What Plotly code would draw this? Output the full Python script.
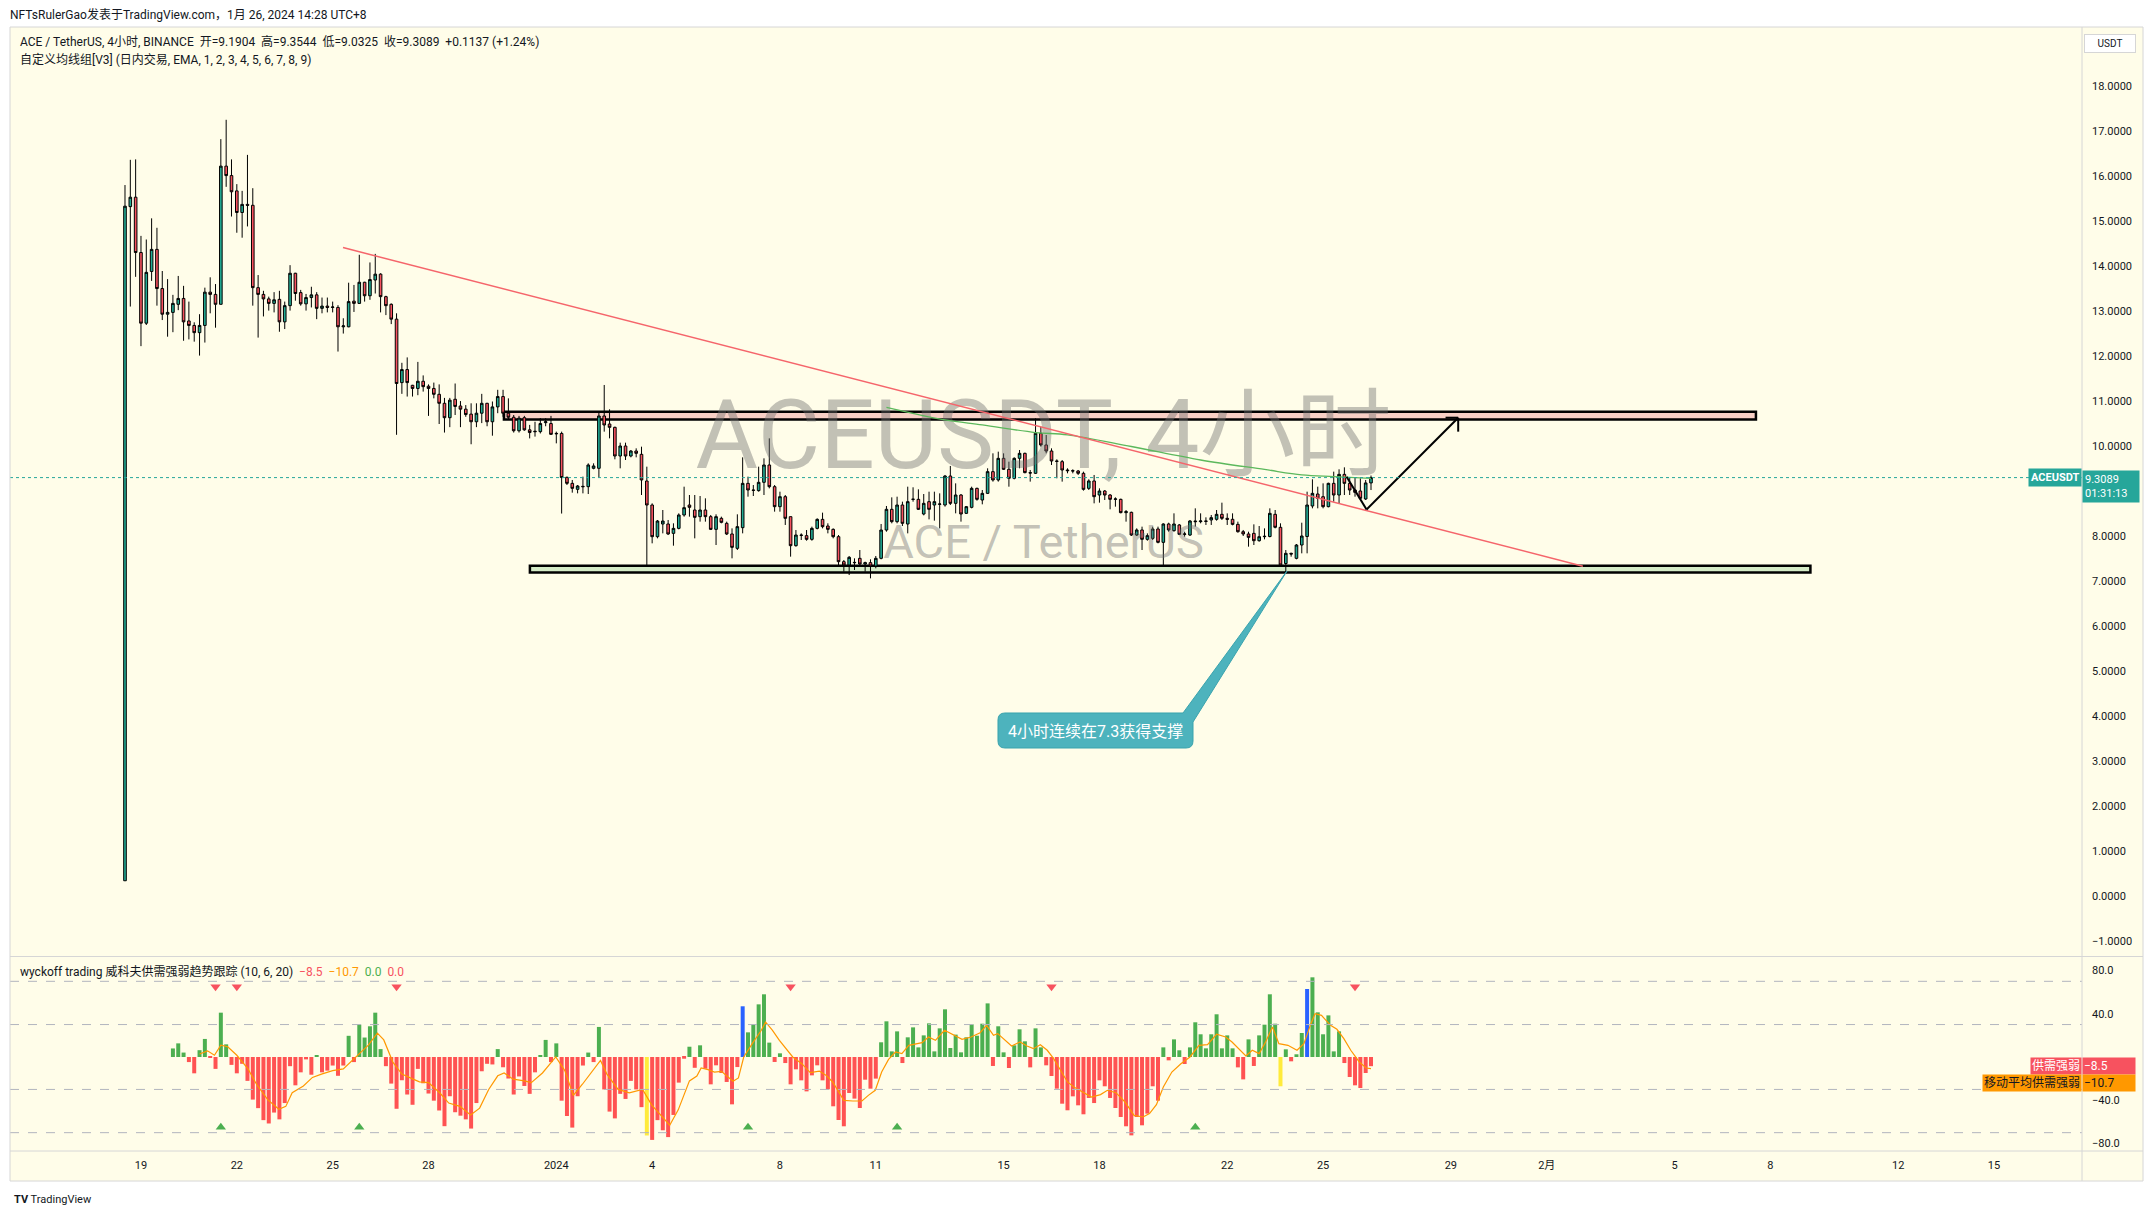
import plotly.graph_objects as go
import pandas as pd

# ---------------- data ----------------
START = "2023-12-18 12:00"   # first 4h bar (UTC+8)

opens = [
    0.35, 15.33, 15.54, 14.31, 12.74, 13.89, 14.38, 13.51, 12.94, 12.98,
    13.16, 13.29, 12.79, 12.69, 12.53, 12.69, 13.43, 13.38, 13.16, 16.23,
    16.02, 15.68, 15.20, 15.38, 15.36, 13.53, 13.38, 13.28, 13.18, 13.27,
    12.77, 13.13, 13.85, 13.42, 13.17, 13.31, 13.37, 13.07, 13.12, 13.09,
    13.09, 12.66, 12.66, 13.23, 13.18, 13.65, 13.35, 13.70, 13.83, 13.33,
    13.16, 12.83, 11.42, 11.71, 11.36, 11.29, 11.45, 11.34, 11.29, 11.16,
    10.96, 10.64, 11.05, 10.90, 10.83, 10.72, 10.55, 10.74, 10.96, 10.55,
    10.88, 11.11, 10.74, 10.65, 10.35, 10.64, 10.37, 10.34, 10.33, 10.53,
    10.51, 10.28, 10.29, 9.315, 9.181, 9.048, 9.115, 9.107, 9.515, 9.515,
    10.678, 10.500, 10.426, 9.789, 10.011, 9.789, 9.900, 9.826, 9.233, 8.700,
    7.996, 8.278, 8.278, 8.070, 8.181, 8.478, 8.700, 8.589, 8.441, 8.589,
    8.441, 8.159, 8.404, 8.293, 8.056, 7.737, 8.196, 9.181, 9.033, 9.019,
    9.204, 9.589, 9.107, 8.663, 8.885, 8.441, 7.796, 8.033, 8.019, 7.937,
    8.181, 8.381, 8.233, 8.159, 7.996, 7.441, 7.367, 7.426, 7.515, 7.389,
    7.419, 7.344, 7.515, 8.144, 8.604, 8.330, 8.700, 8.278, 8.830, 8.826,
    8.500, 8.774, 8.700, 8.715, 8.700, 9.344, 8.737, 8.922, 8.515, 8.648,
    9.070, 8.811, 8.959, 9.441, 9.256, 9.737, 9.493, 9.293, 9.737, 9.848,
    9.419, 9.404, 10.293, 10.034, 9.900, 9.678, 9.663, 9.478, 9.463, 9.456,
    9.404, 9.070, 9.234, 8.922, 9.011, 8.922, 8.826, 8.826, 8.530, 8.537,
    8.033, 8.145, 7.937, 7.959, 8.167, 7.870, 8.278, 8.130, 8.256, 8.048,
    8.033, 8.345, 8.330, 8.345, 8.367, 8.382, 8.493, 8.404, 8.382, 8.270,
    8.107, 8.056, 8.070, 7.907, 7.996, 8.000, 8.493, 8.204, 7.400, 7.626,
    7.515, 7.811, 8.000, 8.678, 8.944, 8.885, 8.663, 9.181, 8.922, 9.381,
    9.181, 9.033, 9.011, 8.834, 9.1904,
]
highs = [
    15.81, 16.37, 16.38, 14.68, 14.60, 15.07, 14.86, 13.90, 13.72, 13.37,
    13.79, 13.57, 13.22, 12.76, 12.94, 13.53, 13.76, 13.61, 16.83, 17.26,
    16.38, 15.83, 15.68, 16.48, 15.74, 13.81, 13.46, 13.33, 13.43, 13.46,
    13.22, 14.03, 13.86, 13.48, 13.39, 13.55, 13.43, 13.31, 13.31, 13.22,
    13.14, 12.85, 13.64, 13.59, 14.26, 13.66, 14.09, 14.28, 13.85, 13.35,
    13.18, 12.96, 11.86, 11.98, 11.37, 11.88, 11.58, 11.38, 11.42, 11.38,
    11.08, 11.08, 11.40, 11.01, 10.92, 10.96, 10.96, 11.17, 10.97, 11.00,
    11.26, 11.26, 11.07, 10.70, 10.68, 10.68, 10.48, 10.55, 10.63, 10.63,
    10.68, 10.33, 10.33, 9.330, 9.256, 9.144, 9.330, 9.626, 9.626, 10.752,
    11.367, 10.826, 10.441, 10.085, 10.085, 9.922, 9.959, 9.996, 9.552, 8.737,
    8.367, 8.589, 8.367, 8.293, 8.515, 9.107, 8.922, 8.922, 8.900, 8.848,
    8.478, 8.493, 8.441, 8.330, 8.181, 8.493, 9.759, 9.330, 9.144, 9.552,
    9.737, 10.181, 9.144, 8.996, 8.922, 8.441, 8.144, 8.070, 8.144, 8.219,
    8.404, 8.530, 8.293, 8.181, 8.033, 7.478, 7.567, 7.515, 7.700, 7.441,
    7.493, 7.567, 8.278, 8.678, 8.870, 8.885, 8.774, 9.107, 9.093, 9.048,
    8.944, 8.996, 8.996, 8.959, 9.367, 9.567, 9.181, 8.944, 8.678, 9.107,
    9.085, 9.033, 9.515, 9.848, 9.885, 9.848, 9.663, 9.759, 9.922, 9.863,
    9.478, 10.626, 10.441, 10.256, 9.959, 9.715, 9.700, 9.515, 9.493, 9.478,
    9.441, 9.271, 9.367, 9.070, 9.033, 8.944, 8.870, 8.841, 8.589, 8.552,
    8.181, 8.219, 8.070, 8.219, 8.219, 8.293, 8.307, 8.515, 8.278, 8.107,
    8.367, 8.626, 8.515, 8.426, 8.478, 8.589, 8.752, 8.515, 8.515, 8.330,
    8.145, 8.107, 8.270, 8.233, 8.181, 8.626, 8.589, 8.293, 7.700, 7.640,
    7.833, 8.307, 8.996, 9.271, 9.107, 9.181, 9.196, 9.441, 9.493, 9.537,
    9.307, 9.315, 9.293, 9.256, 9.3544,
]
lows = [
    0.35, 13.11, 13.77, 12.23, 12.70, 13.68, 13.13, 12.81, 12.44, 12.54,
    13.03, 12.35, 12.38, 12.33, 12.02, 12.31, 12.96, 12.64, 13.16, 15.77,
    15.11, 14.75, 14.64, 14.89, 13.13, 12.42, 12.89, 13.02, 12.98, 12.55,
    12.61, 13.02, 13.24, 13.13, 13.02, 13.09, 12.83, 12.96, 12.98, 12.98,
    12.11, 12.51, 12.65, 12.99, 13.17, 13.22, 13.26, 13.40, 12.98, 12.92,
    12.72, 10.26, 11.17, 11.11, 11.11, 11.14, 11.22, 10.68, 11.07, 10.50,
    10.31, 10.43, 10.70, 10.43, 10.66, 10.05, 10.43, 10.52, 10.45, 10.24,
    10.74, 10.66, 10.59, 10.31, 10.31, 10.35, 10.18, 10.22, 10.29, 10.45,
    10.26, 10.07, 8.51, 9.144, 8.974, 8.959, 8.959, 8.944, 9.493, 9.307,
    10.330, 10.181, 9.715, 9.515, 9.700, 9.759, 9.759, 8.922, 7.330, 7.848,
    7.959, 8.070, 8.033, 7.796, 8.159, 8.441, 8.441, 7.959, 8.330, 8.330,
    8.144, 7.811, 8.293, 8.033, 7.515, 7.700, 8.070, 8.885, 8.900, 8.996,
    8.922, 9.070, 8.552, 8.552, 8.256, 7.552, 7.774, 7.922, 7.907, 7.907,
    8.159, 8.181, 8.070, 7.959, 7.330, 7.219, 7.144, 7.256, 7.330, 7.219,
    7.070, 7.293, 7.493, 8.107, 8.293, 8.293, 8.233, 8.070, 8.774, 8.589,
    8.470, 8.381, 8.352, 8.181, 8.663, 8.700, 8.515, 8.330, 8.500, 8.626,
    8.796, 8.715, 8.944, 9.219, 9.219, 9.478, 9.107, 9.270, 9.515, 9.404,
    9.219, 9.389, 9.997, 9.848, 9.589, 9.293, 9.219, 9.404, 9.404, 9.367,
    9.019, 9.033, 8.737, 8.752, 8.811, 8.604, 8.663, 8.515, 8.330, 8.011,
    8.011, 7.700, 7.907, 7.922, 7.848, 7.367, 8.107, 8.107, 8.033, 7.996,
    8.011, 8.219, 8.293, 8.256, 8.256, 8.352, 8.367, 8.256, 8.248, 8.085,
    8.011, 7.774, 7.811, 7.885, 7.937, 7.981, 8.181, 7.367, 7.196, 7.552,
    7.493, 7.626, 7.626, 8.626, 8.626, 8.626, 8.648, 8.774, 8.722, 8.922,
    8.922, 8.885, 8.811, 8.811, 9.0325,
]
closes = [
    15.34, 15.54, 14.31, 12.74, 13.87, 14.38, 13.51, 12.94, 12.98, 13.18,
    13.29, 12.77, 12.69, 12.53, 12.69, 13.43, 13.38, 13.16, 16.23, 16.02,
    15.66, 15.20, 15.38, 15.36, 13.53, 13.38, 13.28, 13.18, 13.26, 12.77,
    13.13, 13.85, 13.40, 13.17, 13.31, 13.37, 13.07, 13.12, 13.09, 13.10,
    12.66, 12.68, 13.22, 13.18, 13.65, 13.35, 13.71, 13.83, 13.33, 13.13,
    12.83, 11.40, 11.71, 11.42, 11.29, 11.45, 11.33, 11.29, 11.16, 10.96,
    10.64, 11.03, 10.89, 10.83, 10.71, 10.55, 10.74, 10.96, 10.55, 10.88,
    11.11, 10.74, 10.65, 10.35, 10.63, 10.37, 10.31, 10.33, 10.51, 10.55,
    10.27, 10.29, 9.31, 9.181, 9.070, 9.122, 9.107, 9.589, 9.567, 10.678,
    10.478, 10.426, 9.789, 10.011, 9.789, 9.900, 9.848, 9.256, 8.700, 7.996,
    8.344, 8.344, 8.056, 8.181, 8.478, 8.641, 8.648, 8.426, 8.589, 8.441,
    8.159, 8.441, 8.315, 8.056, 7.759, 8.219, 9.181, 9.033, 9.026, 9.204,
    9.589, 9.107, 8.663, 8.885, 8.404, 7.796, 8.033, 8.026, 7.937, 8.181,
    8.381, 8.219, 8.159, 7.996, 7.441, 7.367, 7.537, 7.419, 7.389, 7.419,
    7.344, 7.515, 8.144, 8.604, 8.330, 8.700, 8.293, 8.774, 8.826, 8.604,
    8.737, 8.604, 8.774, 8.722, 9.344, 8.737, 8.922, 8.500, 8.663, 9.070,
    8.826, 8.959, 9.441, 9.256, 9.737, 9.493, 9.293, 9.737, 9.848, 9.419,
    9.411, 10.293, 10.034, 9.900, 9.678, 9.670, 9.478, 9.463, 9.456, 9.404,
    9.048, 9.234, 8.885, 9.011, 8.922, 8.826, 8.834, 8.530, 8.552, 8.033,
    8.145, 7.937, 8.019, 8.167, 7.870, 8.278, 8.145, 8.278, 8.048, 8.056,
    8.345, 8.330, 8.345, 8.337, 8.419, 8.493, 8.404, 8.382, 8.270, 8.107,
    8.056, 7.981, 7.907, 7.996, 8.004, 8.515, 8.204, 7.367, 7.626, 7.611,
    7.811, 8.011, 8.700, 8.959, 8.848, 8.663, 9.181, 8.922, 9.381, 9.181,
    9.033, 8.981, 8.848, 9.190, 9.3089,
]

# green moving-average line drawn on the price pane (bar index, value)
ema_idx = [143, 154, 161, 171, 177, 189, 202, 214, 221, 227, 234]
ema_vals = [10.87, 10.59, 10.48, 10.31, 10.26, 10.00, 9.70, 9.49, 9.37, 9.33, 9.29]

# drawings
trend_x = ["2023-12-25 07:45", "2024-02-02 03:10"]
trend_y = [14.42, 7.34]
res_zone_x = ["2023-12-30 08:40", "2024-02-07 13:10"]
res_zone_y = [10.60, 10.77]
sup_zone_x = ["2023-12-31 04:10", "2024-02-09 06:05"]
sup_zone_y = [7.20, 7.35]
path_x = ["2024-01-25 17:40", "2024-01-26 08:40", "2024-01-29 05:30"]
path_y = [9.33, 8.60, 10.64]
head_x = ["2024-01-29 05:30", "2024-01-28 20:00"]
head_y = [10.33, 10.64]

last_price = 9.3089

# wyckoff supply/demand indicator, one value per bar from bar 9
ind_first = 9
ind_vals = [
    7.9, 12.6, 4.1, -4.7, -15.1, 6.3, 16.7, -0.9, -11.0, 41.0,
    11.7, -7.3, -15.1, -6.3, -22.1, -39.4, -47.3, -58.4, -61.5, -51.4,
    -57.7, -42.6, -8.5, -26.2, -14.2, -2.2, -16.4, 1.6, -14.2, -12.6,
    -7.9, -17.4, -7.9, 19.6, -4.7, 30.0, 18.0, 28.4, 41.0, 7.3,
    -8.5, -24.6, -47.9, -21.5, -34.7, -44.2, -11.0, -24.3, -33.8, -40.4,
    -49.5, -64.0, -36.3, -51.1, -54.3, -57.7, -66.2, -42.6, -13.2, -6.3,
    -6.9, 7.3, -9.5, -19.9, -34.7, -18.0, -26.8, -34.1, -14.2, 1.6,
    15.8, -4.7, 12.6, -40.4, -54.6, -65.3, -36.3, -7.9, 4.1, -4.7,
    27.8, -30.0, -50.5, -56.8, -34.1, -38.8, -22.1, -30.0, -46.4, -72.6,
    -76.7, -58.4, -67.8, -74.1, -53.6, -23.7, -1.6, 9.5, -10.0,
    10.8, -10.8, -25.3, -7.7, -14.8, -23.1, -43.8, -9.3, 46.9, 22.8,
    30.2, 48.7, 58.0, 13.3, -4.6, 3.4, -5.6, -25.3, -11.4, -21.6,
    -31.8, -17.0, -7.7, -21.6, -29.9, -45.6, -58.3, -64.1, -33.3, -38.5,
    -47.2, -21.0, -29.3, -20.0, 13.6, 33.0, 5.2, 23.7, -5.6, 18.2,
    27.4, 8.9, 20.0, 31.1, 5.2, 26.5, 44.1, 8.3, 20.7, 4.3,
    18.2, 30.2, 19.7, 30.8, 49.6, -8.3, 28.4, 4.3, -10.2, 10.8,
    25.6, 14.5, -9.6, 26.5, 8.9, -7.7, -17.6, -29.3, -43.2, -49.3,
    -36.4, -44.7, -53.0, -37.9, -42.6, -21.6, -27.1, -37.9, -47.2, -55.5,
    -64.1, -72.5, -55.5, -63.2, -52.4, -27.1, -40.4, 8.9, -3.1, 16.3,
    6.2, -6.5, 8.9, 32.1, 21.0, 8.0, 21.0, 39.5, 8.0, 20.0,
    8.0, -9.6, -20.7, 16.3, -8.3, 20.0, 29.9, 58.0, 30.8, -27.1,
    7.1, -4.0, 2.5, 22.2, 62.9, 73.7, 41.3, 21.0, 38.5, 5.2,
    23.7, -5.6, -18.5, -26.2, -28.7, -14.8, -8.5,
]
blue_idx = [116, 222]
yellow_idx = [98, 217]

ma_idx = [
    14.0, 15.5, 16.8, 18.0, 19.3, 21.0, 23.1, 24.7, 26.8, 28.9, 30.2, 31.4, 33.5, 35.2,
    36.9, 39.0, 41.0, 42.7, 44.0, 45.7, 47.4, 48.6, 50.3, 52.0, 54.1, 55.3, 57.0, 59.1,
    60.8, 62.9, 64.9, 66.6, 68.3, 70.0, 71.2, 72.9, 75.0, 76.3, 78.4, 80.9, 82.6, 84.2,
    85.9, 88.0, 89.3, 90.5, 92.6, 94.7, 97.2, 98.9, 100.6, 102.3, 103.9, 106.0,
    107.4, 108.2, 109.5, 110.7, 112.0, 113.2, 114.2, 115.2, 116.2, 117.8, 119.5, 120.3,
    121.6, 122.9, 124.1, 125.4, 127.1, 128.7, 130.4, 131.7, 132.9, 135.0, 136.7, 138.4,
    139.6, 140.9, 142.1, 143.4, 144.7, 145.9, 147.2, 148.4, 149.7, 150.9, 152.2, 153.9,
    155.6, 157.2, 158.9, 160.6, 161.8, 163.1, 163.9, 165.2, 166.5, 168.1, 169.4, 170.6,
    171.9, 173.2, 174.4, 175.7, 177.0, 178.2, 179.9, 181.5, 183.2, 184.5, 186.1, 187.8,
    189.5, 191.2, 192.4, 193.7, 195.0, 196.6, 198.3, 200.0, 201.7, 203.3, 205.0, 206.7,
    207.9, 209.2, 210.5, 211.7, 213.0, 214.2, 215.5, 216.7, 218.4, 220.1, 221.4, 222.6,
    223.5, 224.7, 226.4, 227.6, 228.9, 230.2, 231.8, 233.1, 234.0,
]
ma_vals = [
    2.8, 5.7, 1.6, 11.0, 9.5, 1.6, -11.0, -25.2, -39.4, -48.3, -45.7, -33.1, -26.8, -18.9,
    -15.8, -12.6, -11.0, -3.2, 3.2, 11.0, 22.1, 15.8, -4.7, -15.8, -20.5, -23.0, -23.7, -33.1,
    -42.6, -45.7, -53.6, -47.3, -30.0, -17.4, -14.8, -20.5, -22.1, -23.7, -14.8, 0.0, -12.6, -35.6,
    -25.2, -11.0, -3.2, -15.8, -30.0, -33.1, -30.0, -44.2, -53.6, -63.1, -48.9, -22.1,
    -17.6, -10.2, -11.7, -13.9, -13.3, -18.5, -22.5, -19.4, 0.0, 12.3, 24.7, 32.4,
    24.7, 15.4, 7.7, 0.0, -6.2, -14.5, -13.0, -17.0, -23.1, -40.1, -40.7, -40.7,
    -35.5, -30.8, -13.9, -2.2, 4.6, 3.1, 10.8, 12.3, 13.3, 18.5, 15.4, 24.7,
    20.0, 16.3, 18.5, 22.5, 29.3, 20.0, 21.6, 16.3, 10.2, 13.9, 10.2, 7.7,
    11.4, 6.2, -1.5, -12.3, -23.1, -27.8, -32.4, -37.0, -34.8, -30.8, -33.0, -41.6,
    -54.0, -55.5, -52.4, -44.1, -27.8, -13.9, -6.2, 0.0, 10.8, 11.4, 21.0, 18.5,
    13.9, 7.7, 0.9, 6.2, 3.1, 13.9, 27.8, 12.3, 10.8, 6.2, 12.3, 29.3,
    40.1, 38.5, 29.3, 25.6, 17.0, 6.2, -4.6, -10.2, -10.7,
]
sell_idx = [17, 21, 51, 125, 174, 231]
buy_idx = [18, 44, 117, 145, 201]

x_tick_dates = ["2023-12-19", "2023-12-22", "2023-12-25", "2023-12-28", "2024-01-01",
                "2024-01-04", "2024-01-08", "2024-01-11", "2024-01-15", "2024-01-18",
                "2024-01-22", "2024-01-25", "2024-01-29", "2024-02-01", "2024-02-05",
                "2024-02-08", "2024-02-12", "2024-02-15"]
x_tick_text = ["19", "22", "25", "28", "2024", "4", "8", "11", "15", "18",
               "22", "25", "29", "2月", "5", "8", "12", "15"]
price_ticks = [-1, 0, 1, 2, 3, 4, 5, 6, 7, 8, 10, 11, 12, 13, 14, 15, 16, 17, 18]
ind_ticks = [-80, -40, 40, 80]   # 0.0 sits behind the value labels
ind_levels = [70, 30, -30, -70]

# ---------------- helpers ----------------
t0 = pd.Timestamp(START)
def bar_time(i):
    return t0 + pd.Timedelta(hours=4 * i)

times = [bar_time(i) for i in range(len(opens))]
ind_times = [bar_time(ind_first + k) for k in range(len(ind_vals))]

W, H = 2154, 1217
ML, MR, MT, MB = 10, 72, 27, 66
PW, PH = W - ML - MR, H - MT - MB
def px(x):
    return (x - ML) / PW
def py(y):
    return (H - MB - y) / PH

CREAM = "#fffde9"
TXT = "#131722"
FONT = "Roboto, 'Noto Sans CJK SC', sans-serif"
TEAL = "#22ab94"
RED = "#f7525f"
GREEN = "#4caf50"
ORANGE = "#ff9800"

fig = go.Figure()

# watermark (drawn first so candles sit on top of it)
fig.add_trace(go.Scatter(
    x=[pd.Timestamp("2024-01-16 06:00"), pd.Timestamp("2024-01-16 06:00")],
    y=[10.05, 7.78], mode="text",
    text=["ACEUSDT, 4小时", "ACE / TetherUS"],
    textfont=dict(size=[96, 47], color="rgba(110,110,110,0.42)", family=FONT),
    hoverinfo="skip", xaxis="x", yaxis="y", cliponaxis=False))

fig.add_trace(go.Candlestick(
    x=times, open=opens, high=highs, low=lows, close=closes,
    increasing=dict(fillcolor=TEAL, line=dict(color="#000000", width=1)),
    decreasing=dict(fillcolor=RED, line=dict(color="#000000", width=1)),
    whiskerwidth=0, xaxis="x", yaxis="y", hoverinfo="skip"))

fig.add_trace(go.Scatter(
    x=[bar_time(i) for i in ema_idx], y=ema_vals, mode="lines",
    line=dict(color="#5cb85c", width=1.3, shape="spline"),
    xaxis="x", yaxis="y", hoverinfo="skip"))

# indicator histogram
bar_colors = []
for k, v in enumerate(ind_vals):
    i = ind_first + k
    if i in blue_idx:
        bar_colors.append("#2962ff")
    elif i in yellow_idx:
        bar_colors.append("#ffeb3b")
    elif v >= 0:
        bar_colors.append(GREEN)
    else:
        bar_colors.append("#ff5252")
fig.add_trace(go.Bar(x=ind_times, y=ind_vals, marker=dict(color=bar_colors, line=dict(width=0)),
                     xaxis="x2", yaxis="y2", hoverinfo="skip"))
fig.add_trace(go.Scatter(x=[bar_time(i) for i in ma_idx], y=ma_vals, mode="lines",
                         line=dict(color=ORANGE, width=1.2), xaxis="x2", yaxis="y2",
                         hoverinfo="skip"))
fig.add_trace(go.Scatter(x=[bar_time(i) for i in sell_idx], y=[65] * len(sell_idx),
                         mode="markers", marker=dict(symbol="triangle-down", size=9, color=RED),
                         xaxis="x2", yaxis="y2", hoverinfo="skip", cliponaxis=False))
fig.add_trace(go.Scatter(x=[bar_time(i) for i in buy_idx], y=[-65] * len(buy_idx),
                         mode="markers", marker=dict(symbol="triangle-up", size=9, color=GREEN),
                         xaxis="x2", yaxis="y2", hoverinfo="skip", cliponaxis=False))

shapes = []
# cream chart area incl. axes
shapes.append(dict(type="rect", xref="paper", yref="paper", x0=px(10), x1=px(2143),
                   y0=py(1181), y1=py(27), fillcolor=CREAM, line=dict(width=0), layer="below"))
# zones
shapes.append(dict(type="rect", xref="x", yref="y", x0=res_zone_x[0], x1=res_zone_x[1],
                   y0=res_zone_y[0], y1=res_zone_y[1], fillcolor="#f8cfc5",
                   line=dict(color="#000000", width=2.5), layer="below"))
shapes.append(dict(type="rect", xref="x", yref="y", x0=sup_zone_x[0], x1=sup_zone_x[1],
                   y0=sup_zone_y[0], y1=sup_zone_y[1], fillcolor="#d4ebc6",
                   line=dict(color="#000000", width=2.5), layer="below"))
# trend line
shapes.append(dict(type="line", xref="x", yref="y", x0=trend_x[0], x1=trend_x[1],
                   y0=trend_y[0], y1=trend_y[1], line=dict(color="#f5656b", width=1.5)))
# projection path + arrow head
for a in range(len(path_x) - 1):
    shapes.append(dict(type="line", xref="x", yref="y", x0=path_x[a], x1=path_x[a + 1],
                       y0=path_y[a], y1=path_y[a + 1], line=dict(color="#000000", width=2)))
for hx, hy in zip(head_x, head_y):
    shapes.append(dict(type="line", xref="x", yref="y", x0=path_x[-1], y0=path_y[-1],
                       x1=hx, y1=hy, line=dict(color="#000000", width=2)))
# last price dotted line
shapes.append(dict(type="line", xref="paper", yref="y", x0=0, x1=1, y0=last_price, y1=last_price,
                   line=dict(color="#26a69a", width=1, dash="dot")))
# indicator levels
for lv in ind_levels:
    shapes.append(dict(type="line", xref="paper", yref="y2", x0=0, x1=1, y0=lv, y1=lv,
                       line=dict(color="#b2b5be", width=1, dash="dash")))
# pane borders
BORDER = "#d6d6d6"
shapes.append(dict(type="rect", xref="paper", yref="paper", x0=px(10), x1=px(2143),
                   y0=py(1181), y1=py(27), line=dict(color=BORDER, width=1)))
shapes.append(dict(type="line", xref="paper", yref="paper", x0=1, x1=1, y0=py(1181), y1=py(27),
                   line=dict(color=BORDER, width=1)))
shapes.append(dict(type="line", xref="paper", yref="paper", x0=px(10), x1=px(2143),
                   y0=py(956.5), y1=py(956.5), line=dict(color=BORDER, width=1)))
shapes.append(dict(type="line", xref="paper", yref="paper", x0=px(10), x1=px(2143),
                   y0=0, y1=0, line=dict(color=BORDER, width=1)))

# callout bubble
bx0, bx1, by0, by1, r = 998, 1193, 713, 748, 7
pts = [("M", bx0 + r, by0), ("L", 1183, by0), ("L", 1287, 571), ("L", bx1, 722),
       ("L", bx1, by1 - r), ("Q", bx1, by1, bx1 - r, by1), ("L", bx0 + r, by1),
       ("Q", bx0, by1, bx0, by1 - r), ("L", bx0, by0 + r), ("Q", bx0, by0, bx0 + r, by0)]
path = ""
for p in pts:
    if p[0] == "Q":
        path += "Q%.5f,%.5f %.5f,%.5f " % (px(p[1]), py(p[2]), px(p[3]), py(p[4]))
    else:
        path += "%s%.5f,%.5f " % (p[0], px(p[1]), py(p[2]))
path += "Z"
shapes.append(dict(type="path", xref="paper", yref="paper", path=path,
                   fillcolor="#4db3bd", line=dict(color="#3aa3ad", width=1)))

ann = []
def text(x, y, s, size=12, color=TXT, xanchor="left", yanchor="middle", **kw):
    ann.append(dict(xref="paper", yref="paper", x=x, y=y, text=s, showarrow=False,
                    xanchor=xanchor, yanchor=yanchor,
                    font=dict(size=size, color=color, family=FONT), **kw))

text(px(8), py(14), "NFTsRulerGao发表于TradingView.com，1月 26, 2024 14:28 UTC+8", 12)
text(px(18), py(41), "ACE / TetherUS, 4小时, BINANCE  开=9.1904  高=9.3544  低=9.0325  收=9.3089  +0.1137 (+1.24%)", 12)
text(px(18), py(59), "自定义均线组[V3] (日内交易, EMA, 1, 2, 3, 4, 5, 6, 7, 8, 9)", 12)
text(px(18), py(972),
     "wyckoff trading 威科夫供需强弱趋势跟踪 (10, 6, 20)  "
     "<span style='color:#f7525f'>−8.5</span>  <span style='color:#ff9800'>−10.7</span>  "
     "<span style='color:#4caf50'>0.0</span>  <span style='color:#f7525f'>0.0</span>", 12)
text(px(1095.5), py(731), "4小时连续在7.3获得支撑", 16, "#ffffff", xanchor="center")
text(px(12), py(1199), "<b>TV</b> TradingView", 11)
# USDT box
text(px(2110), py(43.5), "USDT", 10, TXT, xanchor="center", bgcolor="#ffffff",
     bordercolor="#d6d6d6", borderwidth=1, borderpad=3, width=44)

# price labels
ann.append(dict(xref="paper", yref="y", x=1, y=last_price, xanchor="right", yanchor="middle",
                text="<b>ACEUSDT</b>", showarrow=False, bgcolor="#26a69a", borderpad=2,
                font=dict(size=11, color="#ffffff", family=FONT)))
ann.append(dict(xref="paper", yref="y", x=1, y=last_price, xanchor="left", yanchor="top",
                yshift=8, text="9.3089<br>01:31:13", showarrow=False, bgcolor="#26a69a",
                borderpad=2, align="left", width=52,
                font=dict(size=11, color="#ffffff", family=FONT)))
ann.append(dict(xref="paper", yref="y2", x=1, y=-8.5, xanchor="right", yanchor="middle",
                text="供需强弱", showarrow=False, bgcolor=RED, borderpad=1,
                font=dict(size=12, color="#ffffff", family=FONT)))
ann.append(dict(xref="paper", yref="y2", x=1, y=-8.5, xanchor="left", yanchor="middle",
                text="−8.5", showarrow=False, bgcolor=RED, borderpad=1, width=50, align="left",
                font=dict(size=12, color="#ffffff", family=FONT)))
ann.append(dict(xref="paper", yref="y2", x=1, y=-10.7, yshift=-14, xanchor="right",
                yanchor="middle", text="移动平均供需强弱", showarrow=False, bgcolor=ORANGE,
                borderpad=1, font=dict(size=12, color="#131722", family=FONT)))
ann.append(dict(xref="paper", yref="y2", x=1, y=-10.7, yshift=-14, xanchor="left",
                yanchor="middle", text="−10.7", showarrow=False, bgcolor=ORANGE, borderpad=1,
                width=50, align="left", font=dict(size=12, color="#131722", family=FONT)))

xr = ["2023-12-14 21:37", "2024-02-17 18:06"]
main_bottom = py(956)
ind_top = py(957)

fig.update_layout(
    width=W, height=H, margin=dict(l=ML, r=MR, t=MT, b=MB),
    paper_bgcolor="#ffffff", plot_bgcolor=CREAM, showlegend=False,
    bargap=0.25, hovermode=False,
    font=dict(family=FONT, color=TXT, size=11),
    xaxis=dict(domain=[0, 1], anchor="y", range=xr, type="date", showgrid=False,
               zeroline=False, showticklabels=False, rangeslider=dict(visible=False),
               ticks=""),
    xaxis2=dict(domain=[0, 1], anchor="y2", matches="x", range=xr, type="date",
                showgrid=False, zeroline=False, tickvals=x_tick_dates, ticktext=x_tick_text,
                ticks="", ticklabelstandoff=6, tickfont=dict(size=11, color=TXT)),
    yaxis=dict(domain=[main_bottom, 1], anchor="x", side="right", range=[-1.322, 19.322],
               showgrid=False, zeroline=False, tickvals=price_ticks, tickformat=".4f",
               ticks="", ticklabelstandoff=9, tickfont=dict(size=11, color=TXT)),
    yaxis2=dict(domain=[0, ind_top], anchor="x2", side="right", range=[-86.96, 92.5],
                showgrid=False, zeroline=False, tickvals=ind_ticks, tickformat=".1f",
                ticks="", ticklabelstandoff=9, tickfont=dict(size=11, color=TXT)),
    shapes=shapes, annotations=ann,
)

fig.write_html("out.html")
